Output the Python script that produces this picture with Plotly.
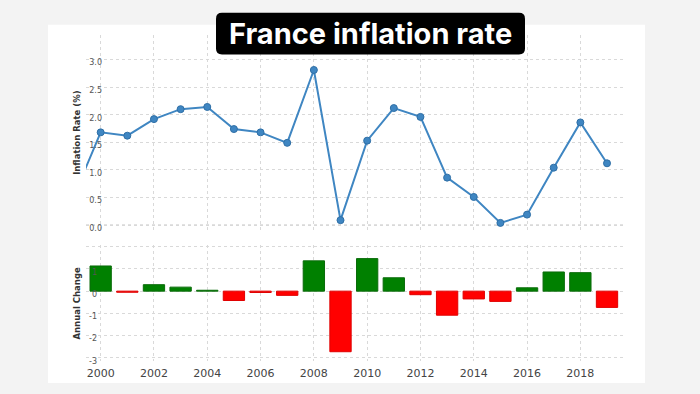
import plotly.graph_objects as go

# ---- data ----
years = list(range(1999, 2020))
inflation = [0.53, 1.68, 1.62, 1.92, 2.10, 2.14, 1.74, 1.68, 1.49, 2.81, 0.09,
             1.53, 2.12, 1.96, 0.86, 0.51, 0.04, 0.19, 1.04, 1.86, 1.12]
change_years = list(range(2000, 2020))
annual_change = [1.13, -0.05, 0.29, 0.18, 0.04, -0.42, -0.06, -0.19, 1.36, -2.72,
                 1.46, 0.60, -0.16, -1.08, -0.35, -0.46, 0.15, 0.86, 0.83, -0.73]
top_ticks = [0, 0.5, 1.0, 1.5, 2.0, 2.5, 3.0, 3.5]
top_ticktext = ["0.0", "0.5", "1.0", "1.5", "2.0", "2.5", "3.0", ""]
bottom_ticks = [-3, -2, -1, 0, 1, 2]
bottom_ticktext = ["-3", "-2", "-1", "0", "1", ""]
x_ticks = list(range(2000, 2020, 2))

W, H = 700, 394
def px(x):
    return x / W
def py(y):
    return 1 - y / H

LINE = "#3f86c2"
bar_colors = ["#008000" if v >= 0 else "#ff0000" for v in annual_change]
bar_lines = ["#0a6b0a" if v >= 0 else "#e00000" for v in annual_change]

TOP_RANGE = [-0.1, 3.45]
BOT_RANGE = [-3.15, 2.05]
X_RANGE = [1999.45, 2019.6]

fig = go.Figure()
fig.add_trace(go.Scatter(
    x=years, y=inflation, mode="lines+markers",
    line=dict(color=LINE, width=2),
    marker=dict(size=7, color=LINE, line=dict(color="#2f6fa6", width=1)),
    xaxis="x", yaxis="y", cliponaxis=True, showlegend=False, hoverinfo="skip"))
fig.add_trace(go.Bar(
    x=change_years, y=annual_change, width=0.8,
    marker=dict(color=bar_colors, line=dict(color=bar_lines, width=1)),
    xaxis="x2", yaxis="y2", showlegend=False, hoverinfo="skip"))
# invisible traces carrying the tick-label axes
fig.add_trace(go.Scatter(x=[years[1]], y=[inflation[1]], mode="markers",
                         marker=dict(opacity=0), xaxis="x", yaxis="y3",
                         showlegend=False, hoverinfo="skip"))
fig.add_trace(go.Scatter(x=[change_years[0]], y=[annual_change[0]], mode="markers",
                         marker=dict(opacity=0), xaxis="x2", yaxis="y4",
                         showlegend=False, hoverinfo="skip"))

grid = dict(showgrid=True, gridcolor="#d9d9d9", griddash="3px,3px", gridwidth=1,
            zeroline=False, showline=False)
tickfont = dict(family="DejaVu Sans", size=8, color="#555555")
titlefont = dict(family="DejaVu Sans", size=8.5, color="#333333")

xdom = [px(86), px(623)]
fig.update_layout(
    width=W, height=H,
    margin=dict(l=0, r=0, t=0, b=0),
    paper_bgcolor="#f3f3f3", plot_bgcolor="rgba(0,0,0,0)",
    bargap=0.2,
    xaxis=dict(domain=xdom, range=X_RANGE, tickvals=x_ticks,
               showticklabels=False, anchor="y", **grid),
    yaxis=dict(domain=[py(233), py(35)], range=TOP_RANGE,
               tickvals=top_ticks, showticklabels=False, anchor="x",
               title=dict(text="<b>Inflation Rate (%)</b>", standoff=3, font=titlefont),
               **grid),
    yaxis3=dict(overlaying="y", anchor="free", position=px(102), side="left",
                range=TOP_RANGE, tickvals=top_ticks, ticktext=top_ticktext,
                tickfont=tickfont, ticks="", ticklabelstandoff=0,
                ticklabelshift=3, showgrid=False, zeroline=False, showline=False),
    xaxis2=dict(domain=xdom, range=X_RANGE, tickvals=x_ticks,
                tickfont=dict(family="DejaVu Sans", size=11, color="#444444"),
                anchor="y2", ticks="", ticklabelstandoff=4, **grid),
    yaxis2=dict(domain=[py(365), py(248)], range=BOT_RANGE,
                tickvals=bottom_ticks, showticklabels=False, anchor="x2",
                title=dict(text="<b>Annual Change</b>", standoff=3, font=titlefont),
                **grid),
    yaxis4=dict(overlaying="y2", anchor="free", position=px(97), side="left",
                range=BOT_RANGE, tickvals=bottom_ticks, ticktext=bottom_ticktext,
                tickfont=tickfont, ticks="", ticklabelstandoff=0,
                ticklabelshift=3, showgrid=False, zeroline=False, showline=False),
)

# white card background
fig.add_shape(type="rect", xref="paper", yref="paper",
              x0=px(48), x1=px(645), y0=py(387), y1=py(25),
              fillcolor="white", line=dict(width=0), layer="below")
# darker zero line of top chart
fig.add_shape(type="line", xref="x", yref="y", x0=X_RANGE[0], x1=X_RANGE[1], y0=0, y1=0,
              line=dict(color="#b5b5b5", width=1, dash="3px,3px"), layer="below")

# rounded black title badge
x0, x1, y0, y1, r = 216, 525, 13, 55, 6
path = (f"M {px(x0+r)},{py(y0)} L {px(x1-r)},{py(y0)} Q {px(x1)},{py(y0)} {px(x1)},{py(y0+r)} "
        f"L {px(x1)},{py(y1-r)} Q {px(x1)},{py(y1)} {px(x1-r)},{py(y1)} "
        f"L {px(x0+r)},{py(y1)} Q {px(x0)},{py(y1)} {px(x0)},{py(y1-r)} "
        f"L {px(x0)},{py(y0+r)} Q {px(x0)},{py(y0)} {px(x0+r)},{py(y0)} Z")
fig.add_shape(type="path", xref="paper", yref="paper", path=path,
              fillcolor="black", line=dict(width=0), layer="above")
fig.add_annotation(x=px((x0 + x1) / 2), y=py((y0 + y1) / 2), xref="paper", yref="paper",
                   text="<b>France inflation rate</b>", showarrow=False,
                   font=dict(family="Inter", size=29, color="white"),
                   xanchor="center", yanchor="middle")

fig.write_html("out.html", config={"displayModeBar": False},
               post_script="document.body.style.margin='0px';document.body.style.overflow='hidden';")
